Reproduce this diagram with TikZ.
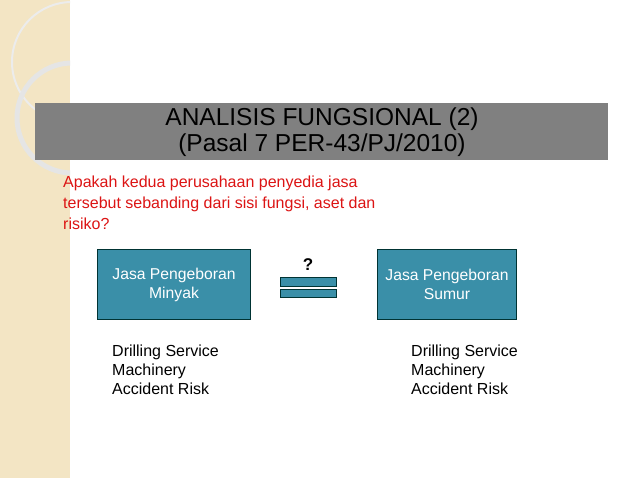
\documentclass[tikz,border=0pt]{standalone}
\usepackage{fontspec}
\setmainfont{Liberation Sans}
\definecolor{boxc}{RGB}{58,143,168}
\definecolor{beige}{RGB}{243,229,196}
\definecolor{redq}{RGB}{220,20,20}
\begin{document}
\begin{tikzpicture}[x=1pt,y=-1pt,
  box/.style={draw=teal!40!black,fill=boxc,line width=1pt,text=white,align=center,font=\fontsize{15.7}{19}\selectfont,minimum width=153pt,minimum height=70pt,anchor=north west},
  bar/.style={fill=boxc,draw=teal!40!black,line width=0.6pt},
  lst/.style={align=left,anchor=north west,font=\fontsize{16}{19}\selectfont,inner sep=0pt}]
\useasboundingbox (0,0) rectangle (638,478);
\fill[white] (0,0) rectangle (638,478);
\fill[beige] (0,0) rectangle (70,478);
\begin{scope}
\clip (0,0) rectangle (70,478);
\draw[white!85!gray,line width=2pt] (72,62) circle (60);
\draw[white!80!gray,line width=5pt] (72,118) circle (55);
\end{scope}
\fill[gray] (35,103) rectangle (608,160);
\node[font=\fontsize{24.5}{26}\selectfont,align=center] (title) at (322,132) {ANALISIS FUNGSIONAL (2)\\(Pasal 7 PER-43/PJ/2010)};
\node[anchor=north west,inner sep=0pt,align=left,text=redq,font=\fontsize{16}{21}\selectfont] (q) at (63,176) {Apakah kedua perusahaan penyedia jasa\\tersebut sebanding dari sisi fungsi, aset dan\\risiko?};
\node[box] (a) at (97,249) {Jasa Pengeboran\\Minyak};
\node[box,minimum width=139pt] (b) at (377,249) {Jasa Pengeboran\\Sumur};
\draw[bar] (280,277) rectangle (336,286);
\draw[bar] (280,289) rectangle (336,297);
\node[font=\fontsize{17}{17}\selectfont\bfseries] (qm) at (308,265) {?};
\node[lst] (la) at (112,345) {Drilling Service\\Machinery\\Accident Risk};
\node[lst] (lb) at (411,345) {Drilling Service\\Machinery\\Accident Risk};
\end{tikzpicture}
\end{document}
